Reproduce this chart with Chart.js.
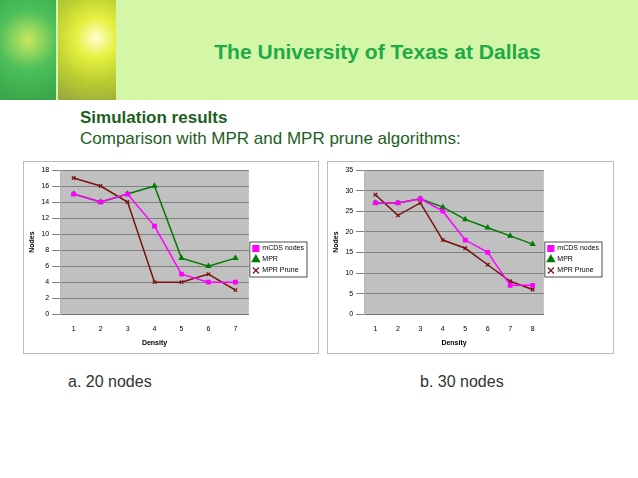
<!DOCTYPE html>
<html>
<head>
<meta charset="utf-8">
<script src="https://cdn.jsdelivr.net/npm/chart.js@4"></script>
<style>
  body { margin: 0; width: 638px; height: 478px; background: #fff; position: relative; overflow: hidden; font-family: "Liberation Sans", Arial, sans-serif; }
  .band { position: absolute; left: 0; top: 0; width: 638px; height: 100px; background: #d3f6a7; }
  .bulb1 { position: absolute; left: 0; top: 0; width: 56px; height: 100px; background: radial-gradient(circle at 28px 40px, #c9e860 0, #4cbf5a 30px, #3aa84a 60px); }
  .bulb2 { position: absolute; left: 58px; top: 0; width: 58px; height: 100px; background: radial-gradient(circle at 38px 38px, #ffffd0 0, #e6f040 20px, #b8cc30 45px, #98a840 70px); }
  .title { position: absolute; left: 117px; width: 521px; top: 40px; text-align: center; font: bold 21px "Liberation Sans", Arial, sans-serif; color: #1faa48; }
  .t1 { position: absolute; left: 80px; top: 108px; font: bold 17px "Liberation Sans", Arial, sans-serif; color: #1d5e22; }
  .t2 { position: absolute; left: 80px; top: 129px; font: 17px "Liberation Sans", Arial, sans-serif; color: #1d5e22; }
  .cap { position: absolute; top: 373px; font: 16px "Liberation Sans", Arial, sans-serif; color: #333; }
  .box { position: absolute; top: 161px; height: 193px; border: 1px solid #bbb; box-sizing: border-box; }
</style>
</head>
<body>
<div class="band"></div>
<div class="bulb1"></div>
<div class="bulb2"></div>
<div class="title">The University of Texas at Dallas</div>
<div class="t1">Simulation results</div>
<div class="t2">Comparison with MPR and MPR prune algorithms:</div>
<div class="box" style="left:23px;width:296px"><canvas id="c1"></canvas></div>
<div class="box" style="left:327px;width:287px"><canvas id="c2"></canvas></div>
<div class="cap" style="left:68px">a. 20 nodes</div>
<div class="cap" style="left:420px">b. 30 nodes</div>
<script>
const seriesNames = ['mCDS nodes', 'MPR', 'MPR Prune'];
const density20 = ['1', '2', '3', '4', '5', '6', '7'];
const mcds20 = [15, 14, 15, 11, 5, 4, 4];
const mpr20 = [15, 14, 15, 16, 7, 6, 7];
const prune20 = [17, 16, 14, 4, 4, 5, 3];
const density30 = ['1', '2', '3', '4', '5', '6', '7', '8'];
const mcds30 = [27, 27, 28, 25, 18, 15, 7, 7];
const mpr30 = [27, 27, 28, 26, 23, 21, 19, 17];
const prune30 = [29, 24, 27, 18, 16, 12, 8, 6];

const colors = ['#ff00ff', '#007a00', '#7a1010'];
const styles = ['rect', 'triangle', 'crossRot'];

// grey plot area plus a thin frame around the legend
const plotBg = {
  id: 'plotBg',
  beforeDraw(chart) {
    const a = chart.chartArea, ctx = chart.ctx;
    ctx.save();
    ctx.fillStyle = '#c0c0c0';
    ctx.fillRect(a.left, a.top, a.right - a.left, a.bottom - a.top);
    ctx.restore();
  },
  afterDraw(chart) {
    const l = chart.legend, ctx = chart.ctx;
    if (!l || !l.legendHitBoxes.length) return;
    const boxes = l.legendHitBoxes;
    const x0 = Math.min(...boxes.map(b => b.left)) - 3;
    const y0 = boxes[0].top - 3;
    const x1 = Math.max(...boxes.map(b => b.left + b.width)) + 3;
    const y1 = boxes[boxes.length - 1].top + boxes[boxes.length - 1].height + 3;
    ctx.save();
    ctx.strokeStyle = '#000';
    ctx.lineWidth = 0.7;
    ctx.strokeRect(x0, y0, x1 - x0, y1 - y0);
    ctx.restore();
  }
};

function makeChart(id, w, labels, data, max, step) {
  const canvas = document.getElementById(id);
  canvas.width = w - 2; canvas.height = 191;
  canvas.style.width = (w - 2) + 'px'; canvas.style.height = '191px';
  return new Chart(canvas, {
    type: 'line',
    data: {
      labels: labels,
      datasets: data.map((d, i) => ({
        label: seriesNames[i],
        data: d,
        borderColor: colors[i],
        backgroundColor: colors[i],
        borderWidth: 1.5,
        pointStyle: styles[i],
        pointRadius: 2.5,
        pointBorderWidth: 1.2,
        tension: 0
      }))
    },
    options: {
      responsive: false,
      animation: false,
      layout: { padding: { top: 8, right: 4, bottom: 4, left: 2 } },
      plugins: {
        legend: {
          position: 'right',
          labels: { usePointStyle: true, boxWidth: 6, boxHeight: 6, padding: 4, font: { size: 7 }, color: '#000' }
        },
        title: { display: false }
      },
      scales: {
        x: {
          offset: true,
          grid: { display: false },
          ticks: { font: { size: 7 }, color: '#000' },
          title: { display: true, text: 'Density', font: { size: 7, weight: 'bold' }, color: '#000', padding: 2 }
        },
        y: {
          min: 0, max: max,
          grid: { color: '#808080', drawTicks: true },
          ticks: { stepSize: step, font: { size: 7 }, color: '#000' },
          title: { display: true, text: 'Nodes', font: { size: 7, weight: 'bold' }, color: '#000', padding: 2 }
        }
      }
    },
    plugins: [plotBg]
  });
}

makeChart('c1', 296, density20, [mcds20, mpr20, prune20], 18, 2);
makeChart('c2', 287, density30, [mcds30, mpr30, prune30], 35, 5);
</script>
</body>
</html>
